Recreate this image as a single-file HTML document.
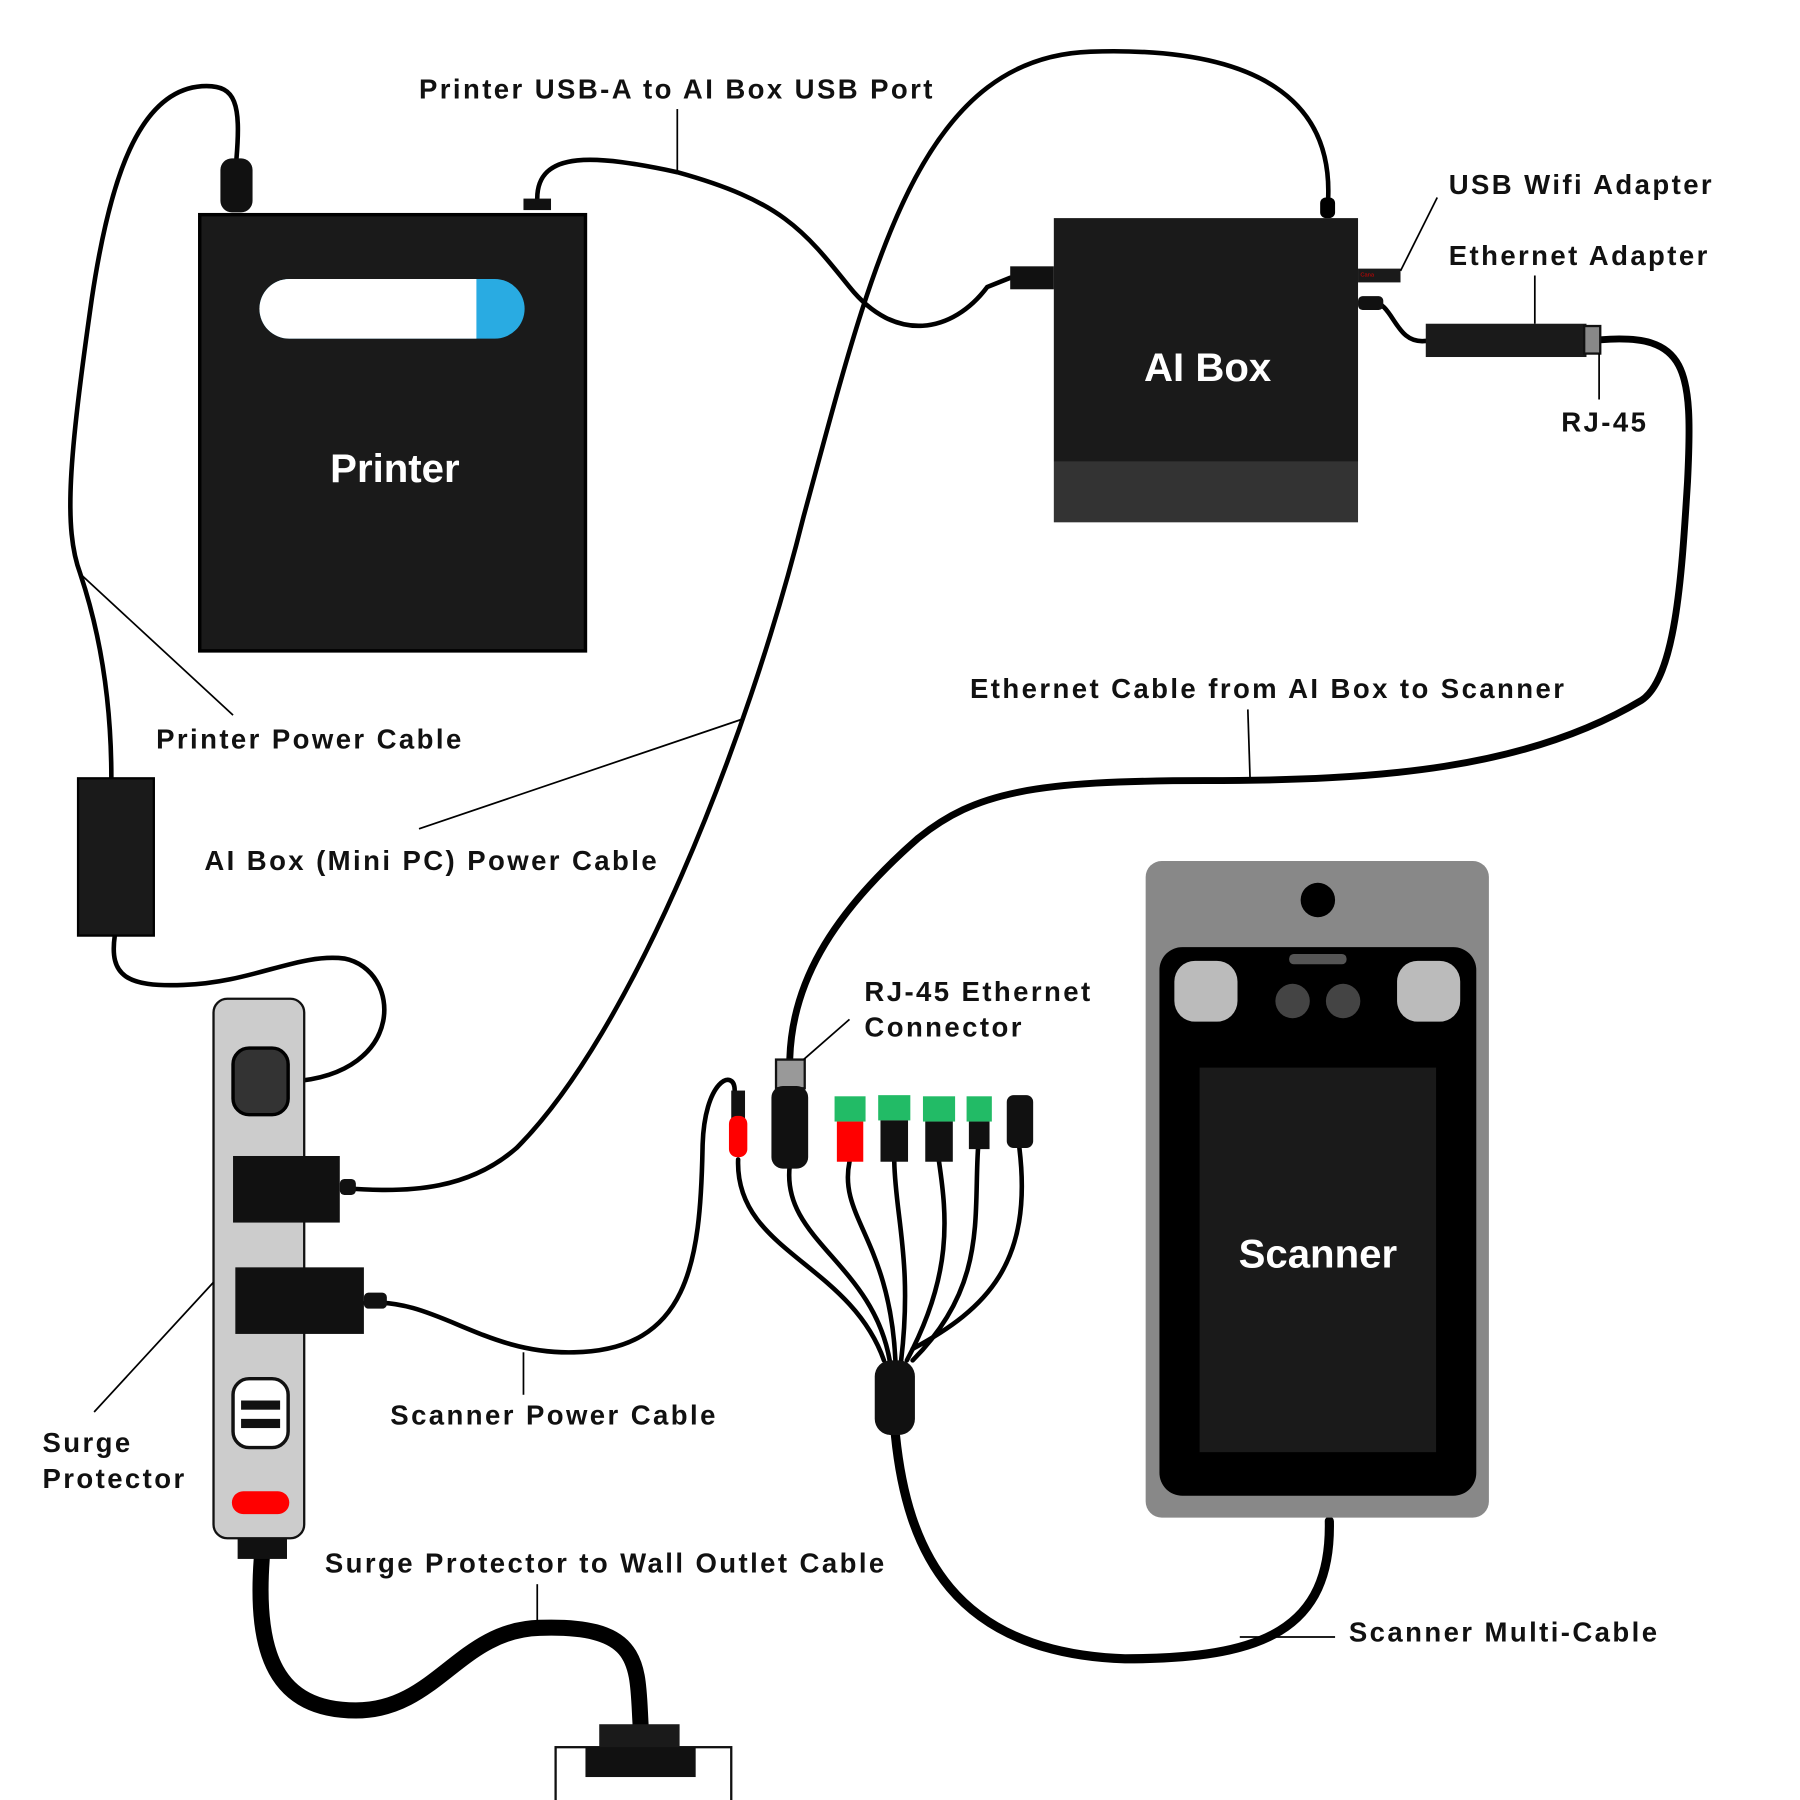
<!DOCTYPE html>
<html><head><meta charset="utf-8"><style>
html,body{margin:0;padding:0;background:#fff;}
svg{display:block;}
.l{font-family:"Liberation Sans",sans-serif;font-weight:bold;font-size:24px;letter-spacing:2.1px;fill:#111;}
.c{fill:none;stroke:#000;stroke-width:4;stroke-linecap:round;}
.t{fill:none;stroke:#000;stroke-width:1.5;}
.b{font-family:"Liberation Sans",sans-serif;font-weight:bold;font-size:35px;fill:#fff;}
</style></head><body>
<svg width="1800" height="1800" viewBox="0 0 1568 1568" xmlns="http://www.w3.org/2000/svg">
<rect width="1568" height="1568" fill="#fff"/>
<path class="c" d="M206,138 C210,90 205,75 180,75 C120,75 95,160 80,260 C60,400 55,460 70,500 C90,560 97,620 97,678"/>
<path class="c" d="M100,815 C95,850 110,860 160,858 C220,856 260,830 300,835 C350,845 355,935 255,942"/>
<path class="c" d="M300,1035 C360,1040 410,1035 450,1000 C550,900 650,650 700,450 C760,230 800,50 950,45 C1100,40 1160,90 1157,172"/>
<path class="c" d="M468,173 C468,130 520,135 590,150 C680,175 700,200 740,250 C780,300 830,290 860,250 L880,242"/>
<path class="c" d="M1195,262 C1215,265 1215,300 1242,297"/>
<path class="c" style="stroke-width:6" d="M1394,296 C1470,290 1475,320 1470,420 C1465,500 1460,590 1430,610 C1330,670 1200,680 1050,680 C900,680 850,690 800,730 C720,800 690,860 688,922"/>
<path class="c" d="M318,1135 C380,1130 420,1180 500,1178 C600,1176 610,1100 612,1000 C613,940 640,930 640,950"/>
<path class="c" d="M643,1010 C640,1090 740,1100 770,1185"/>
<path class="c" d="M688,1015 C680,1080 760,1100 775,1185"/>
<path class="c" d="M740,1012 C730,1060 775,1080 780,1185"/>
<path class="c" d="M779,1012 C780,1060 795,1100 785,1185"/>
<path class="c" d="M818,1012 C825,1060 830,1110 790,1185"/>
<path class="c" d="M852,1000 C848,1060 860,1120 795,1185"/>
<path class="c" d="M888,1000 C900,1100 860,1140 795,1175"/>
<path class="c" style="stroke-width:8" d="M780,1250 C790,1350 830,1440 980,1445 C1100,1445 1160,1420 1158,1325"/>
<path class="c" style="stroke-width:14" d="M228,1358 C222,1440 240,1490 310,1490 C380,1490 400,1420 470,1418 C560,1415 555,1450 558,1502"/>
<rect x="174" y="187" width="336" height="380" fill="#1a1a1a" stroke="#000" stroke-width="3"/>
<rect x="226" y="243" width="231" height="52" rx="26" fill="#29abe2"/>
<path d="M252,243 H415 V295 H252 A26,26 0 0 1 252,243Z" fill="#fff"/>
<text x="344" y="420" class="b" text-anchor="middle">Printer</text>
<rect x="192" y="138" width="28" height="47" rx="10" fill="#111"/>
<rect x="456" y="173" width="24" height="10" fill="#111"/>
<rect x="918" y="190" width="265" height="212" fill="#1a1a1a"/>
<rect x="918" y="402" width="265" height="53" fill="#333"/>
<text x="1052" y="332" class="b" text-anchor="middle">AI Box</text>
<rect x="880" y="232" width="38" height="20" fill="#111"/>
<rect x="1150" y="172" width="13" height="18" rx="5" fill="#000"/>
<rect x="1183" y="234" width="37" height="12" fill="#1a1a1a"/>
<text x="1185" y="241" font-size="5" fill="#d00" font-family="Liberation Sans">Cana</text>
<rect x="1183" y="258" width="22" height="12" rx="4" fill="#111"/>
<rect x="1242" y="282" width="140" height="29" fill="#1a1a1a"/>
<rect x="1380" y="284" width="14" height="24" fill="#888" stroke="#111" stroke-width="2"/>
<rect x="68" y="678" width="66" height="137" fill="#1a1a1a" stroke="#000" stroke-width="2"/>
<rect x="186" y="870" width="79" height="470" rx="12" fill="#ccc" stroke="#111" stroke-width="2"/>
<rect x="203" y="913" width="48" height="58" rx="14" fill="#333" stroke="#000" stroke-width="3"/>
<rect x="203" y="1007" width="93" height="58" fill="#111"/>
<rect x="296" y="1027" width="14" height="14" rx="4" fill="#111"/>
<rect x="205" y="1104" width="112" height="58" fill="#111"/>
<rect x="317" y="1126" width="20" height="14" rx="4" fill="#111"/>
<rect x="203" y="1201" width="48" height="60" rx="14" fill="#fff" stroke="#111" stroke-width="3"/>
<rect x="210" y="1220" width="34" height="8" fill="#111"/>
<rect x="210" y="1236" width="34" height="8" fill="#111"/>
<rect x="202" y="1299" width="50" height="20" rx="10" fill="#f00"/>
<rect x="207" y="1340" width="43" height="18" fill="#111"/>
<rect x="484" y="1522" width="153" height="50" fill="#fff" stroke="#111" stroke-width="2"/>
<rect x="522" y="1502" width="70" height="22" fill="#1a1a1a"/>
<rect x="510" y="1522" width="96" height="26" fill="#111"/>
<rect x="998" y="750" width="299" height="572" rx="14" fill="#888"/>
<rect x="1010" y="825" width="276" height="478" rx="20" fill="#000"/>
<rect x="1045" y="930" width="206" height="335" fill="#1a1a1a"/>
<circle cx="1148" cy="784" r="15" fill="#000"/>
<rect x="1123" y="831" width="50" height="9" rx="4" fill="#555"/>
<rect x="1023" y="837" width="55" height="53" rx="18" fill="#bbb"/>
<rect x="1217" y="837" width="55" height="53" rx="18" fill="#bbb"/>
<circle cx="1126" cy="872" r="15" fill="#444"/>
<circle cx="1170" cy="872" r="15" fill="#444"/>
<text x="1148" y="1104" class="b" text-anchor="middle">Scanner</text>
<rect x="637" y="950" width="12" height="25" fill="#111"/>
<rect x="635" y="972" width="16" height="36" rx="7" fill="#f00"/>
<rect x="676" y="923" width="25" height="25" fill="#999" stroke="#111" stroke-width="2"/>
<rect x="672" y="946" width="32" height="72" rx="10" fill="#111"/>
<rect x="727" y="955" width="27" height="22" fill="#2b6"/>
<rect x="729" y="977" width="23" height="35" fill="#f00"/>
<rect x="765" y="954" width="28" height="22" fill="#2b6"/>
<rect x="767" y="976" width="24" height="36" fill="#111"/>
<rect x="804" y="955" width="28" height="22" fill="#2b6"/>
<rect x="806" y="977" width="24" height="35" fill="#111"/>
<rect x="842" y="955" width="22" height="22" fill="#2b6"/>
<rect x="844" y="977" width="18" height="24" fill="#111"/>
<rect x="877" y="954" width="23" height="46" rx="6" fill="#111"/>
<rect x="762" y="1185" width="35" height="65" rx="14" fill="#111"/>
<line class="t" x1="590" y1="95" x2="590" y2="150"/>
<line class="t" x1="1252" y1="172" x2="1220" y2="236"/>
<line class="t" x1="1337" y1="240" x2="1337" y2="282"/>
<line class="t" x1="1393" y1="308" x2="1393" y2="348"/>
<line class="t" x1="70" y1="500" x2="203" y2="623"/>
<line class="t" x1="365" y1="722" x2="648" y2="626"/>
<line class="t" x1="1087" y1="618" x2="1089" y2="680"/>
<line class="t" x1="700" y1="923" x2="740" y2="888"/>
<line class="t" x1="82" y1="1230" x2="186" y2="1117"/>
<line class="t" x1="456" y1="1178" x2="456" y2="1215"/>
<line class="t" x1="468" y1="1380" x2="468" y2="1418"/>
<line class="t" x1="1080" y1="1426" x2="1163" y2="1426"/>
<text class="l" x="365" y="86">Printer USB-A to AI Box USB Port</text>
<text class="l" x="1262" y="169">USB Wifi Adapter</text>
<text class="l" x="1262" y="231">Ethernet Adapter</text>
<text class="l" x="1360" y="376">RJ-45</text>
<text class="l" x="845" y="608">Ethernet Cable from AI Box to Scanner</text>
<text class="l" x="136" y="652">Printer Power Cable</text>
<text class="l" x="178" y="758">AI Box (Mini PC) Power Cable</text>
<text class="l" x="753" y="872">RJ-45 Ethernet</text>
<text class="l" x="753" y="903">Connector</text>
<text class="l" x="340" y="1241">Scanner Power Cable</text>
<text class="l" x="37" y="1265">Surge</text>
<text class="l" x="37" y="1296">Protector</text>
<text class="l" x="283" y="1370">Surge Protector to Wall Outlet Cable</text>
<text class="l" x="1175" y="1430">Scanner Multi-Cable</text>
</svg>
</body></html>
